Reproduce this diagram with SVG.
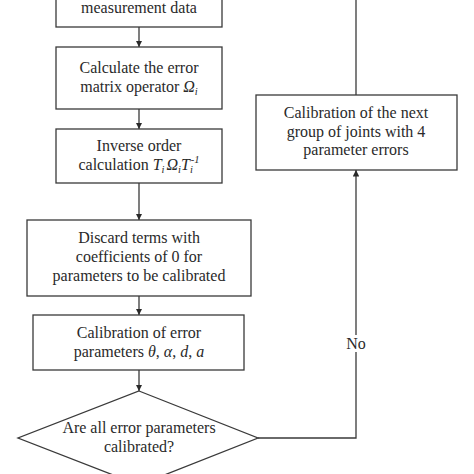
<svg xmlns="http://www.w3.org/2000/svg" width="474" height="474" viewBox="0 0 474 474">
<style>
.box{fill:#fff;stroke:#3a3a3a;stroke-width:1.3}
.ln{fill:none;stroke:#3a3a3a;stroke-width:1.3}
text{font-family:"Liberation Serif","Times New Roman",serif;font-size:16px;fill:#2a2a2a;text-anchor:middle}
.it{font-style:italic}
.sub{font-style:italic;font-size:10.5px}
</style>
<defs>
<marker id="ah" viewBox="0 0 10 10" refX="10" refY="5" markerWidth="5" markerHeight="5" orient="auto">
<path d="M0,0 L10,5 L0,10 z" fill="#2a2a2a"/>
</marker>
</defs>
<rect width="474" height="474" fill="#fff"/>
<g id="connectors">
<line class="ln" x1="139" y1="27" x2="139" y2="47" marker-end="url(#ah)"/>
<line class="ln" x1="139" y1="109" x2="139" y2="129" marker-end="url(#ah)"/>
<line class="ln" x1="139" y1="183" x2="139" y2="220" marker-end="url(#ah)"/>
<line class="ln" x1="139" y1="296" x2="139" y2="315" marker-end="url(#ah)"/>
<line class="ln" x1="139" y1="370" x2="139" y2="391" marker-end="url(#ah)"/>
<polyline class="ln" points="258,438 356,438 356,352"/>
<line class="ln" x1="356" y1="335" x2="356" y2="170" marker-end="url(#ah)"/>
<text x="356" y="349">No</text>
<line class="ln" x1="356" y1="95" x2="356" y2="-2"/>
</g>
<g id="n1">
<rect class="box" x="56" y="-20" width="166" height="47"/>
<text x="139" y="13">measurement data</text>
</g>
<g id="n2">
<rect class="box" x="56" y="47" width="166" height="62"/>
<text x="139" y="73">Calculate the error</text>
<text x="139" y="92">matrix operator <tspan class="it">Ω</tspan><tspan class="sub" dy="3">i</tspan></text>
</g>
<g id="n3">
<rect class="box" x="56" y="129" width="166" height="54"/>
<text x="139" y="151">Inverse order</text>
<text x="139" y="170">calculation <tspan class="it">T</tspan><tspan class="sub" dy="3">i</tspan><tspan class="it" dx="2" dy="-3">Ω</tspan><tspan class="sub" dy="3">i</tspan><tspan class="it" dy="-3">T</tspan><tspan class="sub" dy="3">i</tspan><tspan class="sub" dx="-2" dy="-10">-1</tspan></text>
</g>
<g id="n4">
<rect class="box" x="27" y="220" width="224" height="76"/>
<text x="139" y="243">Discard terms with</text>
<text x="139" y="262">coefficients of 0 for</text>
<text x="139" y="281">parameters to be calibrated</text>
</g>
<g id="n5">
<rect class="box" x="33" y="315" width="211" height="55"/>
<text x="139" y="338">Calibration of error</text>
<text x="139" y="357">parameters <tspan class="it">θ</tspan>, <tspan class="it">α</tspan>, <tspan class="it">d</tspan>, <tspan class="it">a</tspan></text>
</g>
<g id="n6">
<polygon class="box" points="139,391 258,438 139,485 18,438"/>
<text x="139" y="433">Are all error parameters</text>
<text x="139" y="452">calibrated?</text>
</g>
<g id="n7">
<rect class="box" x="256" y="95" width="201" height="75"/>
<text x="356" y="118">Calibration of the next</text>
<text x="356" y="137">group of joints with 4</text>
<text x="356" y="155">parameter errors</text>
</g>
</svg>
